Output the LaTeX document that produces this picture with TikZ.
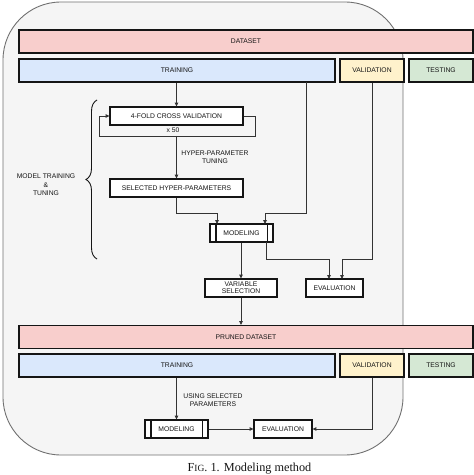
\documentclass[tikz,border=0pt]{standalone}
\usepackage{fontspec}
\newfontfamily\labfont{Liberation Sans}
\newfontfamily\capfont{Liberation Serif}
\usetikzlibrary{arrows.meta,decorations.pathreplacing}
\definecolor{bgfill}{HTML}{F5F5F5}
\definecolor{bgline}{HTML}{707070}
\definecolor{dsfill}{HTML}{F8CECC}
\definecolor{trfill}{HTML}{DAE8FC}
\definecolor{vafill}{HTML}{FFF2CC}
\definecolor{tefill}{HTML}{D5E8D4}
\definecolor{lncol}{HTML}{333333}
\definecolor{txcol}{HTML}{151515}
\tikzset{
  lab/.style={font=\labfont\fontsize{6.8}{8}\selectfont, text=txcol, align=center, inner sep=0pt},
  bar/.style={lab, draw=txcol, line width=1.1pt, minimum height=23bp},
  box/.style={lab, draw=txcol, fill=white, line width=1.1pt, minimum height=18bp},
  conn/.style={draw=lncol, line width=0.75pt},
  arr/.style={conn, -{Triangle[length=3.8pt,width=3.4pt]}}
}
\begin{document}
\begin{tikzpicture}[x=1bp,y=-1bp]
\useasboundingbox (0,0) rectangle (474,475);
% background rounded container
\draw[fill=bgfill, draw=bgline, line width=0.9pt, rounded corners=58bp] (3,2) rectangle (403,455);

% bars
\node[bar, fill=dsfill, minimum width=454bp] (ds) at (246,41.5) {DATASET};
\node[bar, fill=trfill, minimum width=316bp] (tr1) at (177,70.5) {TRAINING};
\node[bar, fill=vafill, minimum width=64bp] (va1) at (372,70.5) {VALIDATION};
\node[bar, fill=tefill, minimum width=64bp] (te1) at (441,70.5) {TESTING};

\node[bar, fill=dsfill, minimum width=454bp] (pds) at (246,337) {PRUNED DATASET};
\node[bar, fill=trfill, minimum width=316bp] (tr2) at (177,365.5) {TRAINING};
\node[bar, fill=vafill, minimum width=64bp] (va2) at (372,365.5) {VALIDATION};
\node[bar, fill=tefill, minimum width=64bp] (te2) at (441,365.5) {TESTING};

% boxes
\node[box, minimum width=133bp] (cv) at (176.5,116) {4-FOLD CROSS VALIDATION};
\node[box, minimum width=133bp] (shp) at (176.5,188) {SELECTED HYPER-PARAMETERS};
\node[box, minimum width=63bp] (mod1) at (241.5,233) {MODELING};
\node[box, minimum width=72bp] (vs) at (241,288) {VARIABLE\\[-1pt]SELECTION};
\node[box, minimum width=57bp] (ev1) at (334.5,288) {EVALUATION};
\node[box, minimum width=63bp] (mod2) at (176.5,429) {MODELING};
\node[box, minimum width=58bp] (ev2) at (283,429) {EVALUATION};

% process bars of modeling boxes
\foreach \m in {mod1,mod2}{
  \draw[draw=txcol, line width=1.1pt] ([xshift=6.5bp]\m.north west) -- ([xshift=6.5bp]\m.south west);
  \draw[draw=txcol, line width=1.1pt] ([xshift=-6.5bp]\m.north east) -- ([xshift=-6.5bp]\m.south east);
}

% coordinates
\coordinate (l1) at (255,116);
\coordinate (l2) at (255,136);
\coordinate (l3) at (99,136);
\coordinate (l4) at (99,116);
\coordinate (lb) at (176.5,136);

% connectors
\draw[arr] (cv.north |- tr1.south) -- (cv.north);
\draw[arr] (cv.east) -- (l1) -- (l2) -- (l3) -- (l4) -- (cv.west);
\node[lab] (x50) at (173,130.5) {x 50};
\draw[arr] (lb) -- (shp.north);
\node[lab] (hpt) at (215,157.5) {HYPER-PARAMETER\\[0.3pt]TUNING};

\draw[arr] (shp.south) -- (176.5,213) -- (217,213) -- (217,224);
\draw[arr] (306,82) -- (306,213) -- (265,213) -- (265,224);
\draw[arr] (vs.north |- mod1.south) -- (vs.north);
\draw[arr] (266,242) -- (266,259.5) -- (329,259.5) -- (329,279);
\draw[arr] (va1.south) -- (372,259.5) -- (342,259.5) -- (342,279);
\draw[arr] (vs.south) -- (vs.south |- pds.north);

\draw[arr] (mod2.north |- tr2.south) -- (mod2.north);
\node[lab] (usp) at (213,400.5) {USING SELECTED\\[0.3pt]PARAMETERS};
\draw[arr] (mod2.east) -- (ev2.west);
\draw[arr] (va2.south) -- (va2.south |- ev2.east) -- (ev2.east);

% brace
\draw[draw=txcol, line width=0.9pt, decorate, decoration={brace, amplitude=11bp, aspect=0.5}] (97,259) -- (97,100);
\node[lab] (mtt) at (46,185) {MODEL TRAINING\\[0.5pt]\&\\[0.5pt]TUNING};

% caption
\node[font=\capfont\fontsize{12.3}{14}\selectfont, anchor=base, inner sep=0pt, text=txcol] (cap) at (249.5,471.6) {F{\fontsize{9.5}{11}\selectfont IG}. 1. Modeling method};
\end{tikzpicture}
\end{document}
